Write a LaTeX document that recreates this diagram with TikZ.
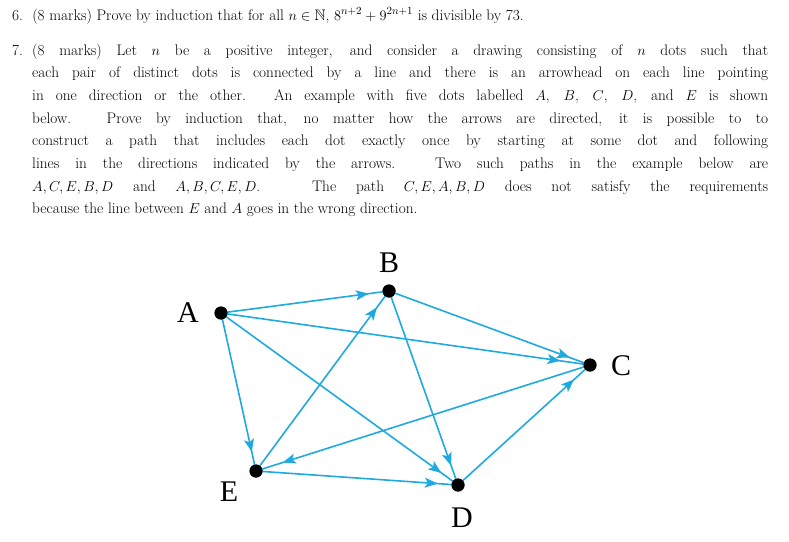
\documentclass[tikz,border=0pt]{standalone}
\usepackage{amssymb}
\usepackage{fontspec}
\newfontfamily\lab{Liberation Serif}
\definecolor{edge}{RGB}{30,170,225}
\usetikzlibrary{arrows.meta,decorations.markings}
\tikzset{
  dot/.style={circle,fill=black,inner sep=0pt,minimum size=13pt},
  lbl/.style={font=\lab\fontsize{30}{30}\selectfont,inner sep=0pt},
  txt/.style={anchor=base west,inner sep=0pt,font=\fontsize{15.3}{18}\selectfont},
  arr/.style={edge,line width=1.6pt,postaction={decorate},decoration={markings,
    mark=at position #1 with {\arrow{Stealth[length=13pt,width=10pt,inset=3pt]}}}},
}
\newcommand{\jline}[1]{\makebox[736pt][s]{#1}}
\begin{document}
\begin{tikzpicture}[x=1pt,y=-1pt]
\useasboundingbox (0,0) rectangle (789,541);
\node[txt] (l0) at (12,20) {6.\ \ (8 marks) Prove by induction that for all $n\in\mathbb{N}$, $8^{n+2}+9^{2n+1}$ is divisible by 73.};
\node[txt] (l1) at (12,55) {7.};
\node[txt] (l1b) at (32,55) {\jline{(8 marks) Let $n$ be a positive integer, and consider a drawing consisting of $n$ dots such that}};
\node[txt] (l2) at (32,77.7) {\jline{each pair of distinct dots is connected by a line and there is an arrowhead on each line pointing}};
\node[txt] (l3) at (32,100.4) {\jline{in one direction or the other. An example with five dots labelled $A$, $B$, $C$, $D$, and $E$ is shown}};
\node[txt] (l4) at (32,123.1) {\jline{below. Prove by induction that, no matter how the arrows are directed, it is possible to to}};
\node[txt] (l5) at (32,145.8) {\jline{construct a path that includes each dot exactly once by starting at some dot and following}};
\node[txt] (l6) at (32,168.5) {\jline{lines in the directions indicated by the arrows. Two such paths in the example below are}};
\node[txt] (l7) at (32,191.2) {\jline{$A,C,E,B,D$ and $A,B,C,E,D$. The path $C,E,A,B,D$ does not satisfy the requirements}};
\node[txt] (l8) at (32,213.9) {because the line between $E$ and $A$ goes in the wrong direction.};

\node[dot] (A) at (221,313) {};
\node[dot] (B) at (389,291) {};
\node[dot] (C) at (590,365) {};
\node[dot] (E) at (256,471) {};
\node[dot] (D) at (458,485) {};
\node[lbl] (LA) at (188,313) {A};
\node[lbl] (LB) at (389,263) {B};
\node[lbl] (LC) at (621,366) {C};
\node[lbl] (LE) at (229,492) {E};
\node[lbl] (LD) at (462,518) {D};

\draw[arr=0.88] (A.center) -- (B.center);
\draw[arr=0.92] (A.center) -- (C.center);
\draw[arr=0.93] (A.center) -- (D.center);
\draw[arr=0.88] (A.center) -- (E.center);
\draw[arr=0.9] (B.center) -- (C.center);
\draw[arr=0.9] (B.center) -- (D.center);
\draw[arr=0.91] (E.center) -- (B.center);
\draw[arr=0.92] (C.center) -- (E.center);
\draw[arr=0.9] (E.center) -- (D.center);
\draw[arr=0.88] (D.center) -- (C.center);
\foreach \n in {A,B,C,D,E} \node[dot] at (\n) {};
\end{tikzpicture}
\end{document}
